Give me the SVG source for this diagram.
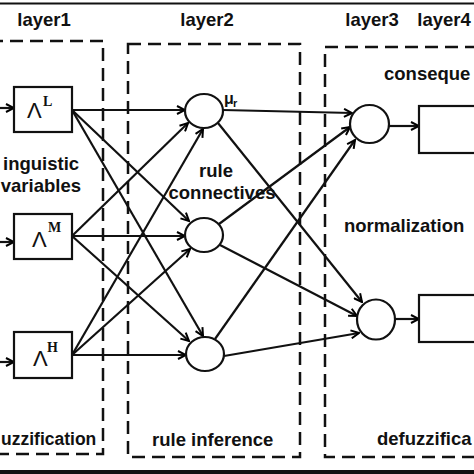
<svg xmlns="http://www.w3.org/2000/svg" width="474" height="474" viewBox="0 0 474 474">
<defs>
<marker id="arr" viewBox="0 0 10 10" refX="9" refY="5" markerWidth="10" markerHeight="10" markerUnits="userSpaceOnUse" orient="auto">
<path d="M1,1 L9,5 L1,9" fill="none" stroke="#000" stroke-width="2"/>
</marker>
</defs>
<style>
.t{font-family:"Liberation Sans",Arial,sans-serif;font-weight:bold;font-size:18.5px;fill:#111}
.lam{font-family:"Liberation Sans",Arial,sans-serif;font-size:22px;fill:#111}
.sup{font-family:"Liberation Serif","Times New Roman",serif;font-weight:bold;font-size:14px;fill:#111}
.dash{fill:none;stroke:#111;stroke-width:2.5;stroke-dasharray:13 7}
.nd{fill:#fff;stroke:#111;stroke-width:2.2}
.c line{stroke:#111;stroke-width:2.2;marker-end:url(#arr)}
</style>
<rect width="474" height="474" fill="#fff"/>
<line x1="0" y1="3.5" x2="474" y2="3.5" stroke="#111" stroke-width="2"/>
<rect x="0" y="470" width="474" height="4" fill="#111"/>

<g id="frames">
<rect class="dash" x="-10" y="41" width="113" height="413"/>
<rect class="dash" x="128" y="44" width="172" height="413"/>
<rect class="dash" x="325" y="47" width="170" height="410"/>
</g>

<g id="labels">
<text class="t" x="44" y="26" text-anchor="middle">layer1</text>
<text class="t" x="207" y="26" text-anchor="middle">layer2</text>
<text class="t" x="372" y="26" text-anchor="middle">layer3</text>
<text class="t" x="444" y="26" text-anchor="middle">layer4</text>
<text class="t" x="384" y="80">conseque</text>
<text class="t" x="3" y="170">inguistic</text>
<text class="t" x="81" y="192" text-anchor="end">variables</text>
<text class="t" x="216" y="177" text-anchor="middle">rule</text>
<text class="t" x="222" y="199" text-anchor="middle">connectives</text>
<text class="t" x="344" y="232">normalization</text>
<text class="t" x="152" y="446">rule inference</text>
<text class="t" x="1" y="445" style="font-size:17.5px">uzzification</text>
<text class="t" x="377" y="445">defuzzifica</text>
</g>

<g id="connectors" class="c">
<line x1="0" y1="108" x2="14" y2="108"/>
<line x1="0" y1="242" x2="14" y2="242"/>
<line x1="0" y1="362" x2="14" y2="362"/>
<line x1="72" y1="110" x2="185" y2="110"/>
<line x1="72" y1="110" x2="189" y2="221"/>
<line x1="72" y1="110" x2="203" y2="336"/>
<line x1="72" y1="236" x2="188" y2="123"/>
<line x1="72" y1="236" x2="185" y2="236"/>
<line x1="72" y1="236" x2="189" y2="341"/>
<line x1="72" y1="355" x2="203" y2="129"/>
<line x1="72" y1="355" x2="190" y2="249"/>
<line x1="72" y1="355" x2="186" y2="355"/>
<line x1="223" y1="110" x2="352" y2="113"/>
<line x1="218" y1="123" x2="362" y2="302"/>
<line x1="219" y1="224" x2="350" y2="127"/>
<line x1="220" y1="245" x2="357" y2="316"/>
<line x1="215" y1="339" x2="355" y2="140"/>
<line x1="224" y1="356" x2="359" y2="333"/>
<line x1="389" y1="126" x2="419" y2="126"/>
<line x1="395" y1="319" x2="419" y2="319"/>
</g>

<g id="nodeL">
<rect class="nd" x="14" y="87" width="58" height="45"/>
<text class="lam" x="27" y="118">Λ</text>
<text class="sup" x="43" y="106">L</text>
</g>
<g id="nodeM">
<rect class="nd" x="14" y="214" width="58" height="45"/>
<text class="lam" x="32" y="247">Λ</text>
<text class="sup" x="48" y="232">M</text>
</g>
<g id="nodeH">
<rect class="nd" x="14" y="332" width="58" height="46"/>
<text class="lam" x="33" y="366">Λ</text>
<text class="sup" x="47" y="352">H</text>
</g>
<g id="rule1">
<ellipse class="nd" cx="204" cy="111" rx="19" ry="17"/>
<text class="t" x="224" y="104" style="font-size:16px">μ</text>
<text class="t" x="233" y="107" style="font-size:11px">r</text>
</g>
<g id="rule2"><ellipse class="nd" cx="204" cy="235" rx="19" ry="17"/></g>
<g id="rule3"><ellipse class="nd" cx="205" cy="354" rx="19" ry="17"/></g>
<g id="norm1"><ellipse class="nd" cx="369.5" cy="124" rx="19.5" ry="19"/></g>
<g id="norm2"><ellipse class="nd" cx="376" cy="319.5" rx="19" ry="20"/></g>
<g id="cons1"><rect class="nd" x="419" y="106" width="70" height="47"/></g>
<g id="cons2"><rect class="nd" x="419" y="295" width="70" height="47"/></g>
</svg>
